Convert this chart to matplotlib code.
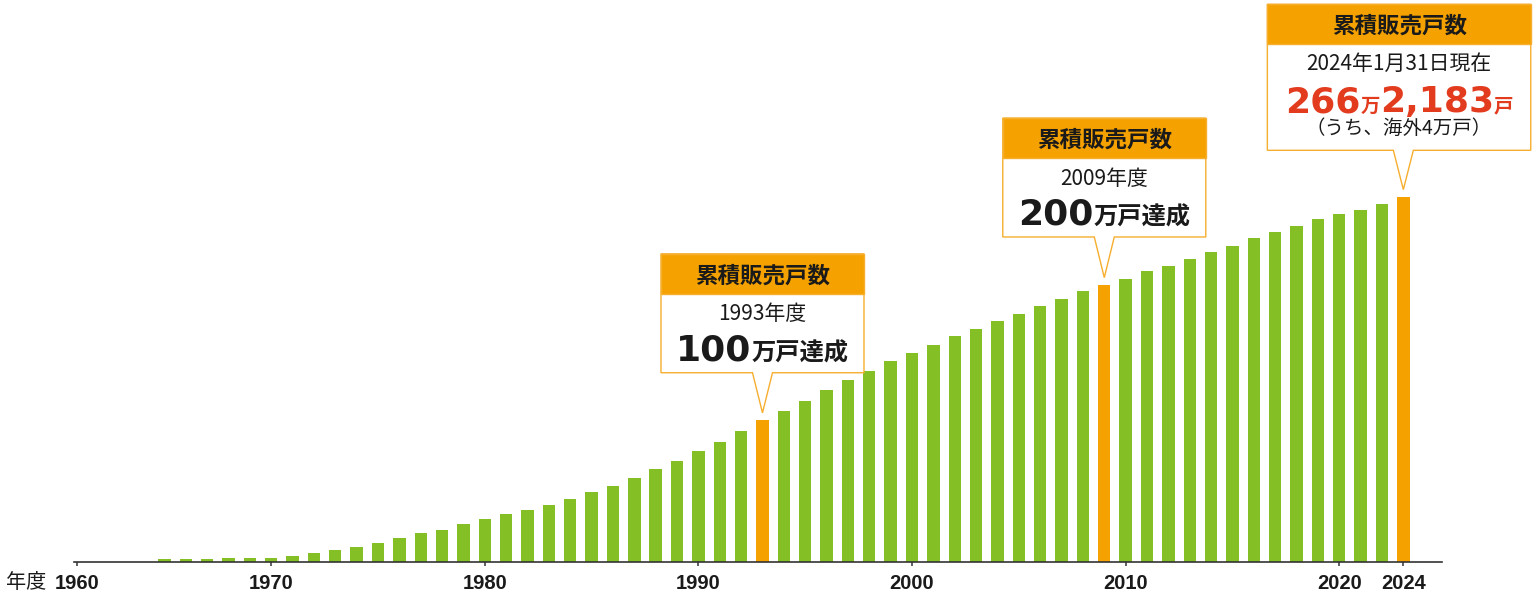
import matplotlib
matplotlib.use("Agg")
import matplotlib.pyplot as plt
from matplotlib.patches import Polygon, Rectangle
from matplotlib.transforms import Affine2D, ScaledTranslation

# ---------------- data ----------------
years = list(range(1965, 2023)) + [2024]
values = [2.2, 2.2, 2.2, 2.9, 2.9, 2.9, 4.6, 6.6, 8.7, 11.1, 13.8, 17.5, 21.1, 23.3,
          27.7, 31.3, 35.0, 38.2, 41.8, 46.2, 51.0, 55.7, 61.2, 67.7, 73.6, 80.9,
          87.4, 95.4, 103.2, 109.8, 117.1, 125.1, 132.4, 138.9, 146.4, 152.3, 157.9,
          164.4, 169.5, 175.3, 180.4, 186.3, 191.9, 197.7, 202.1, 206.5, 211.8, 215.9,
          221.0, 226.1, 230.5, 235.8, 240.7, 245.1, 249.9, 253.5, 256.7, 261.1, 266.2]
highlight_years = [1993, 2009, 2024]
tick_years = [1960, 1970, 1980, 1990, 2000, 2010, 2020, 2024]
tick_labels = ["1960", "1970", "1980", "1990", "2000", "2010", "2020", "2024"]
axis_title = "年度"
header_text = "累積販売戸数"

GREEN = "#85BF26"
ORANGE = "#F5A200"
BORDER = "#F6AE2E"
RED = "#E23B1E"
INK = "#1a1a1a"
JP = ["Noto Sans CJK JP", "DejaVu Sans"]

W, H = 1536, 597
fig = plt.figure(figsize=(W / 100, H / 100), dpi=100)
base_px = 562.0
ax = fig.add_axes([74 / W, (H - base_px) / H, 1367.8 / W, base_px / H])
ax.set_xlim(1960.77, 2024.80)
ax.set_ylim(0, base_px / 1.3727)

# bars in consecutive slots (last bar = 2024 status sits in next slot)
slots = [1965 + i for i in range(len(years))]
colors = [ORANGE if y in highlight_years else GREEN for y in years]
ax.bar(slots, values, width=0.58, color=colors, zorder=2)

slot_of = dict(zip(years, slots))
tick_pos = []
for y in tick_years:
    if y in slot_of:
        tick_pos.append(slot_of[y])
    elif y < slots[0]:
        tick_pos.append(max(y, ax.get_xlim()[0] + 0.15))
    else:
        tick_pos.append(y)
ax.set_xticks(tick_pos)
ax.set_xticklabels(tick_labels, fontsize=14.5, fontweight="bold",
                   family=["Liberation Sans", "DejaVu Sans"], color=INK)
ax.tick_params(axis="x", direction="out", length=3.2, width=1.1, color="#333333", pad=5.5)
ax.set_yticks([])
for s in ["top", "right", "left"]:
    ax.spines[s].set_visible(False)
ax.spines["bottom"].set_color("#333333")
ax.spines["bottom"].set_linewidth(1.2)
ax.spines["bottom"].set_zorder(3)

fig.text(26 / W, (H - 582) / H, axis_title, ha="center", va="center",
         fontsize=14.5, family=JP, color=INK)

renderer = fig.canvas.get_renderer()


def anchor(x, y):
    return Affine2D() + ScaledTranslation(x, y, ax.transData)


def runs_line(T, cx, by, runs):
    objs = []
    widths = []
    for (s, size, weight, fam, col) in runs:
        t = ax.text(0, by, s, transform=T, fontsize=size, fontweight=weight,
                    family=fam, color=col, ha="left", va="baseline",
                    clip_on=False, zorder=6)
        objs.append(t)
        widths.append(t.get_window_extent(renderer).width)
    x = cx - sum(widths) / 2
    for t, w in zip(objs, widths):
        t.set_x(x)
        x += w


def callout(year, left, right, top, hdr, bottom, gap, ptr=10):
    i = years.index(year)
    T = anchor(slots[i], values[i])
    tip = gap
    pts = [(left, top), (right, top), (right, bottom), (ptr, bottom), (0, tip),
           (-ptr, bottom), (left, bottom)]
    ax.add_patch(Polygon(pts, closed=True, transform=T, facecolor="white",
                         edgecolor=BORDER, linewidth=1.0, clip_on=False, zorder=4,
                         joinstyle="miter"))
    ax.add_patch(Rectangle((left, hdr), right - left, top - hdr, transform=T,
                           facecolor=ORANGE, edgecolor=BORDER, linewidth=1.0,
                           clip_on=False, zorder=5))
    cx = (left + right) / 2
    ax.text(cx, (top + hdr) / 2, header_text, transform=T, ha="center",
            va="center_baseline", fontsize=16.2, fontweight="bold", family=JP,
            color=INK, clip_on=False, zorder=6)
    return T, cx


# 1993
T, cx = callout(1993, -101.5, 101.5, 166.5, 126.5, 47.6, 7.5)
runs_line(T, cx, 100, [("1993年度", 15, "normal", JP, INK)])
runs_line(T, cx, 60, [("100", 26, "bold", ["DejaVu Sans"], INK),
                      ("万戸達成", 17.5, "bold", JP, INK)])

# 2009
T, cx = callout(2009, -101.5, 101.5, 166.5, 126.5, 47.6, 7.0)
runs_line(T, cx, 100, [("2009年度", 15, "normal", JP, INK)])
runs_line(T, cx, 60, [("200", 26, "bold", ["DejaVu Sans"], INK),
                      ("万戸達成", 17.5, "bold", JP, INK)])

# 2024
T, cx = callout(2024, -136, 127.4, 192.3, 153, 46.3, 7.0)
runs_line(T, cx, 127, [("2024年1月31日現在", 15, "normal", JP, INK)])
runs_line(T, cx, 84.5, [("266", 26, "bold", ["DejaVu Sans"], RED),
                        ("万", 14, "bold", JP, RED),
                        ("2,183", 26, "bold", ["DejaVu Sans"], RED),
                        ("戸", 14, "bold", JP, RED)])
runs_line(T, cx, 63, [("（うち、海外4万戸）", 14, "normal", JP, INK)])

fig.savefig("out.png", dpi=100)
